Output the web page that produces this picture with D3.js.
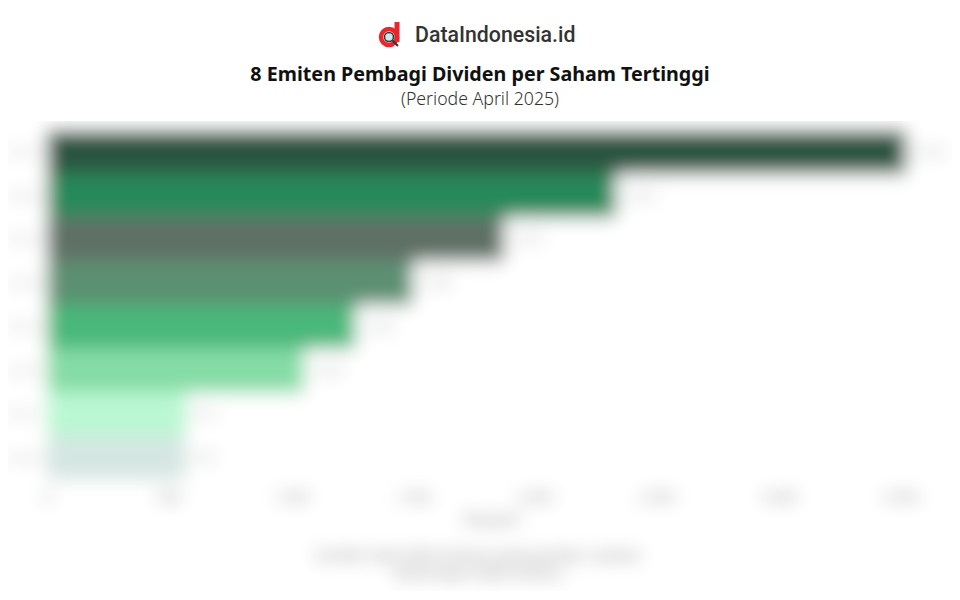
<!DOCTYPE html>
<html><head><meta charset="utf-8">
<script src="https://cdn.jsdelivr.net/npm/d3@7/dist/d3.min.js"></script>
<style>html,body{margin:0;background:#fff}svg{display:block}</style>
</head><body><svg id="c" width="960" height="600"></svg>
<script>
// The reference blurs its plot: names, tick labels and the footer cannot be read.
// Category names and the axis/footer wording are neutral placeholders.
const categories = ["Emiten 1","Emiten 2","Emiten 3","Emiten 4","Emiten 5","Emiten 6","Emiten 7","Emiten 8"];
const values = [3525,2335,1875,1500,1265,1055,574,570];
const barColors = ["#2a5540","#28895a","#5f6f65","#5c9072","#48b87a","#85dca5","#baf8d3","#d5e6e2"];
const ticks = [0,500,1000,1500,2000,2500,3000,3500];
const axisTitle = "Rupiah";
const footer = ["Sumber data tidak terbaca pada gambar rujukan","Keterangan tidak terbaca"];

const svg = d3.select("#c");
const defs = svg.append("defs");
defs.append("filter").attr("id","blur").attr("x",-30).attr("y",-30).attr("width",1020).attr("height",660)
  .attr("filterUnits","userSpaceOnUse").append("feGaussianBlur").attr("stdDeviation",9);
defs.append("clipPath").attr("id","clip").append("rect").attr("x",8).attr("y",121).attr("width",944).attr("height",470);

// Header
svg.append("text").attr("x",480).attr("y",81).attr("text-anchor","middle")
  .attr("font-family","'Noto Sans'").attr("font-weight",700).attr("font-size",19.7).attr("fill","#111")
  .text("8 Emiten Pembagi Dividen per Saham Tertinggi");
svg.append("text").attr("x",480).attr("y",105).attr("text-anchor","middle")
  .attr("font-family","'Noto Sans'").attr("font-weight",300).attr("font-size",17.7).attr("fill","#333")
  .text("(Periode April 2025)");
svg.append("text").attr("x",415).attr("y",42).attr("font-family","Roboto").attr("font-weight",500)
  .attr("font-size",21.3).attr("fill","#333").text("DataIndonesia.id");
const logo = svg.append("g");
logo.append("circle").attr("cx",389).attr("cy",37).attr("r",8).attr("fill","#fff").attr("stroke","#e8262c").attr("stroke-width",4.5);
logo.append("rect").attr("x",394.5).attr("y",22).attr("width",5).attr("height",20).attr("fill","#e8262c");
logo.append("circle").attr("cx",389).attr("cy",37).attr("r",4.5).attr("fill","#cfe6ea").attr("stroke","#333").attr("stroke-width",1.5);
logo.append("line").attr("x1",392.5).attr("y1",40.5).attr("x2",398).attr("y2",46).attr("stroke","#333").attr("stroke-width",2);

// Plot
const x = d3.scaleLinear().domain([0,3500]).range([47,900]);
const y = d3.scaleBand().domain(categories).range([130,480]).padding(0);
const outer = svg.append("g").attr("clip-path","url(#clip)");
const g = outer.append("g").attr("filter","url(#blur)");
g.append("rect").attr("x",-30).attr("y",-30).attr("width",1020).attr("height",660).attr("fill","#fff");

g.selectAll("rect.bar").data(values).join("rect").attr("class","bar")
  .attr("x",x(0)).attr("y",(d,i)=>y(categories[i])).attr("width",d=>x(d)-x(0))
  .attr("height",y.bandwidth()).attr("fill",(d,i)=>barColors[i]);
g.selectAll("text.val").data(values).join("text").attr("class","val")
  .attr("x",d=>x(d)+6).attr("y",(d,i)=>y(categories[i])+y.bandwidth()/2+4)
  .attr("font-family","'Noto Sans'").attr("font-size",13).attr("fill","#999")
  .text(d=>d3.format(",")(d).replace(/,/g,"."));

const yAxis = d3.axisLeft(y).tickSize(0).tickPadding(3);
g.append("g").attr("transform",`translate(${x(0)},0)`).call(yAxis)
  .call(a=>a.select(".domain").remove())
  .call(a=>a.selectAll("text").attr("font-family","'Noto Sans'").attr("font-size",9).attr("fill","#999"));
const xAxis = d3.axisBottom(x).tickValues(ticks).tickSize(0).tickPadding(8)
  .tickFormat(d=>d3.format(",")(d).replace(/,/g,"."));
g.append("g").attr("transform","translate(0,484)").call(xAxis)
  .call(a=>a.select(".domain").remove())
  .call(a=>a.selectAll("text").attr("font-family","'Noto Sans'").attr("font-size",14).attr("fill","#666"));
g.append("text").attr("x",492).attr("y",525).attr("text-anchor","middle").attr("font-family","'Noto Sans'")
  .attr("font-size",17).attr("fill","#666").text(axisTitle);
g.selectAll("text.foot").data(footer).join("text").attr("class","foot")
  .attr("x",478).attr("y",(d,i)=>560+i*18).attr("text-anchor","middle").attr("font-family","'Noto Sans'")
  .attr("font-size",14).attr("font-weight",500).attr("fill","#666").text(d=>d);
</script></body></html>
